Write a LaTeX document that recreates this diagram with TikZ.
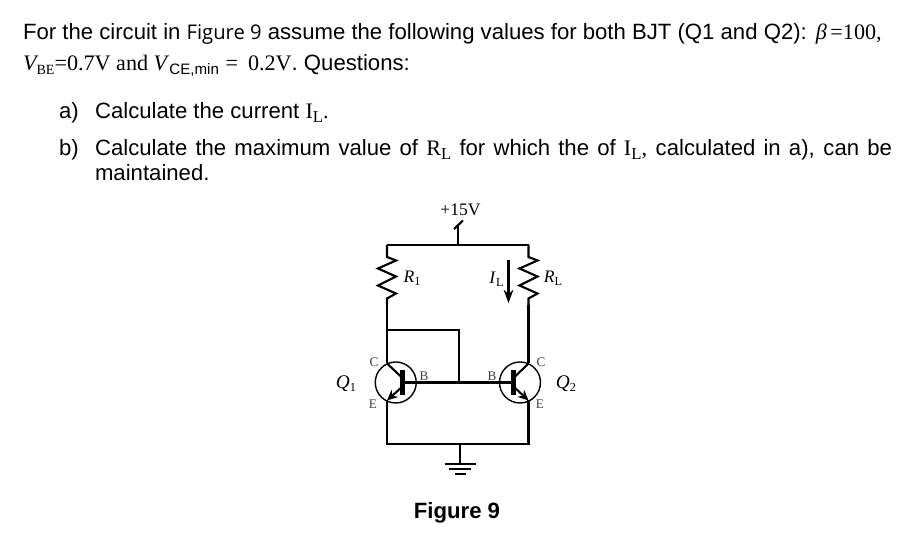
\documentclass[tikz,border=0pt]{standalone}
\usepackage{fontspec}
\usepackage{tikz}
\usetikzlibrary{arrows.meta}
\setmainfont{Liberation Sans}
\newfontfamily\serif{Liberation Serif}
\newfontfamily\figfont{Open Sans}
\newcommand{\lowtext}[2][7.5pt]{\raisebox{-0.35ex}{\fontsize{#1}{#1}\selectfont #2}}
\tikzset{
    body/.style={anchor=base west,inner sep=0pt,font=\fontsize{12.6pt}{14pt}\selectfont},
    part/.style={inner sep=0pt,font=\serif\fontsize{10pt}{11pt}\selectfont},
    pin/.style={inner sep=0pt,text=black!75,font=\serif\fontsize{7.5pt}{8pt}\selectfont},
    bar/.style={line width=2.6pt,line cap=butt},
    resistor/.pic={\draw (0,0) -- (0,-0.24) -- (0.18,-0.31) -- (-0.18,-0.47) -- (0.18,-0.63) -- (-0.18,-0.81) -- (0.18,-0.97) -- (0,-1.07) -- (0,-1.2);}
}
\begin{document}
\begin{tikzpicture}[very thick]
    \useasboundingbox (0,0) rectangle (18.44,10.86);
    % question text
    \node[body] (line1) at (0.44,10.06) {For the circuit in {\figfont\fontsize{11.5pt}{14pt}\selectfont Figure 9} assume the following values for both BJT (Q1 and Q2):\hspace{0.4em}{\serif\itshape β}{\serif\,=100,}};
    \node[body] (line2) at (0.44,9.45) {{\serif\itshape V}{\serif\lowtext[8pt]{BE}=0.7V and \textit{V}}\lowtext[8.6pt]{CE,min}\hspace{0.3em}{\serif =\hspace{0.45em}0.2V}. Questions:};
    \node[body] (a) at (1.16,8.49) {a)};
    \node[body] (atext) at (1.88,8.49) {Calculate the current {\serif I\lowtext[9.5pt]{L}.}};
    \node[body] (b) at (1.16,7.74) {b)};
    \node[body,text width=15.94cm,align=justify] (btext) at (1.88,7.74) {Calculate the maximum value of {\serif R\lowtext[9.5pt]{L}} for which the of {\serif I\lowtext[9.5pt]{L},} calculated in a), can be\linebreak maintained.};
    \node[font=\bfseries\fontsize{12.6pt}{14pt}\selectfont,inner sep=0pt] (fig) at (9.14,0.61) {Figure 9};
    % wires
    \coordinate (supply) at (9.16,5.96);
    \coordinate (tl) at (7.74,5.96);
    \coordinate (tr) at (10.57,5.96);
    \coordinate (bl) at (7.74,1.98);
    \coordinate (br) at (10.57,1.98);
    \coordinate (gnd) at (9.20,1.98);
    \coordinate (q1) at (7.915,3.21);
    \coordinate (q2) at (10.40,3.21);
    \coordinate (fb) at (9.18,3.21);
    \draw (tl) -- (tr);
    \draw (supply) -- ++(0,0.40);
    \draw (9.08,6.28) -- (9.26,6.45);
    \path (tl) pic {resistor};
    \path (tr) pic {resistor};
    \draw (tl) ++(0,-1.2) coordinate (r1end) -- (7.74,3.59) coordinate (c1);
    \draw (tr) ++(0,-1.2) coordinate (rLend) -- (10.57,3.59) coordinate (c2);
    \draw[thick] (7.74,4.26) -- (9.18,4.26) -- (fb);
    \draw (7.74,2.85) coordinate (e1) -- (bl) -- (br) -- (10.57,2.85) coordinate (e2);
    % transistors
    \draw[thick] (q1) circle (0.41);
    \draw[thick] (q2) circle (0.41);
    \draw (8.05,3.21) -- (10.27,3.21);
    \draw[bar] (8.05,2.96) -- (8.05,3.46);
    \draw[bar] (10.27,2.96) -- (10.27,3.46);
    \draw (c1) -- (8.05,3.30);
    \draw (c2) -- (10.27,3.30);
    \draw[-{Stealth[length=6pt,width=5.5pt]}] (8.05,3.13) -- (e1);
    \draw[-{Stealth[length=6pt,width=5.5pt]}] (10.27,3.13) -- (e2);
    % ground
    \draw (gnd) -- ++(0,-0.40) coordinate (g0);
    \draw (8.89,1.58) -- (9.51,1.58);
    \draw (8.98,1.48) -- (9.42,1.48);
    \draw (9.09,1.38) -- (9.32,1.38);
    % current arrow
    \draw[-{Stealth[length=7.5pt,width=5.5pt]}] (10.17,5.65) -- (10.17,4.80);
    % labels
    \node[part] (vcc) at (9.21,6.66) {+15V};
    \node[part] (r1) at (8.24,5.29) {\textit{R}\lowtext[7pt]{1}};
    \node[part] (rl) at (11.06,5.29) {\textit{R}\lowtext[7pt]{L}};
    \node[part] (il) at (9.93,5.28) {\textit{I}\lowtext[7pt]{L}};
    \node[part,font=\serif\fontsize{11pt}{12pt}\selectfont] (q1lab) at (6.92,3.18) {\textit{Q}\lowtext[7pt]{1}};
    \node[part,font=\serif\fontsize{11pt}{12pt}\selectfont] (q2lab) at (11.32,3.18) {\textit{Q}\lowtext[7pt]{2}};
    \node[pin] (c1lab) at (7.48,3.62) {C};
    \node[pin] (e1lab) at (7.46,2.78) {E};
    \node[pin] (b1lab) at (8.48,3.34) {B};
    \node[pin] (b2lab) at (9.84,3.34) {B};
    \node[pin] (c2lab) at (10.82,3.62) {C};
    \node[pin] (e2lab) at (10.80,2.78) {E};
\end{tikzpicture}
\end{document}
